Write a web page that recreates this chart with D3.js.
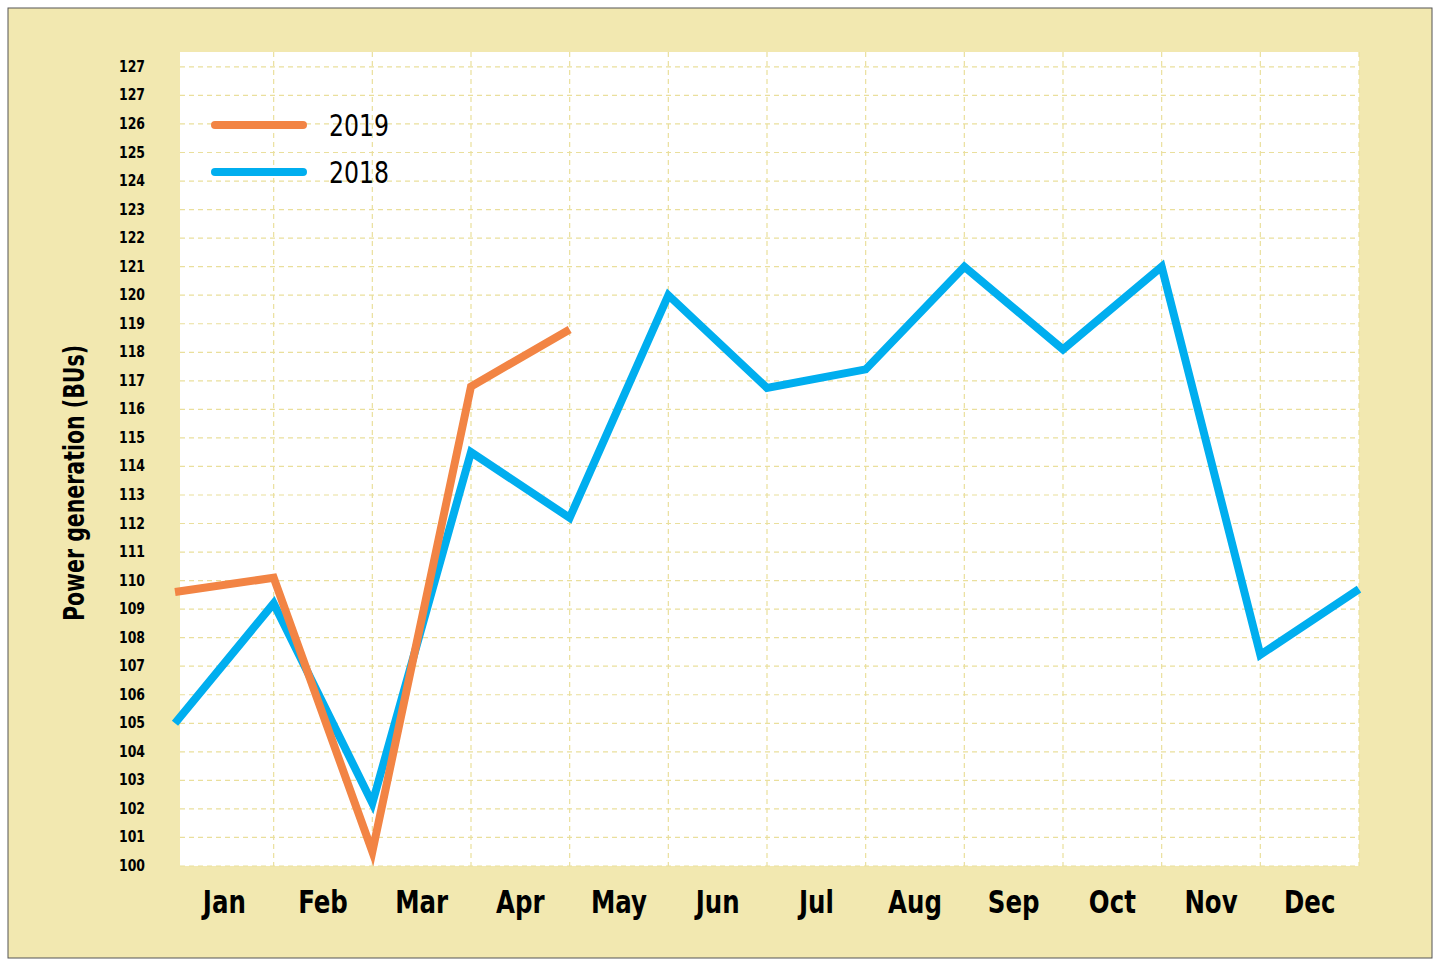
<!DOCTYPE html>
<html><head><meta charset="utf-8">
<script src="https://cdn.jsdelivr.net/npm/d3@7"></script>
<style>body{margin:0;background:#fff}</style>
</head><body>
<svg id="c" width="1439" height="965"></svg>
<script>
const months=["Jan","Feb","Mar","Apr","May","Jun","Jul","Aug","Sep","Oct","Nov","Dec"];
const values2018=[105,109.2,102.2,114.5,112.2,120,116.75,117.4,121,118.1,121,107.4,109.7];
const values2019=[109.6,110.1,100.5,116.8,118.8];
const tickValues=d3.range(100,129);
const tickLabels=["100","101","102","103","104","105","106","107","108","109","110","111","112","113","114","115","116","117","118","119","120","121","122","123","124","125","126","127","127"];
const font="'Liberation Sans Narrow','DejaVu Sans Condensed','Liberation Sans',Arial,sans-serif";
const svg=d3.select("#c");
svg.append("rect").attr("x",8).attr("y",8).attr("width",1424).attr("height",950).attr("fill","#f2e8b0").attr("stroke","#555").attr("stroke-width",1);
const L=180,R=1359,T=52,B=866;
svg.append("rect").attr("x",L).attr("y",T).attr("width",R-L).attr("height",B-T).attr("fill","#fff");
const x=d3.scaleLinear().domain([0,12]).range([175,1359]);
const y=d3.scaleLinear().domain([100,128]).range([B,B-28*28.54]);
const g=svg.append("g");
tickValues.forEach((v,i)=>{
 g.append("line").attr("x1",L).attr("x2",R).attr("y1",y(v)).attr("y2",y(v)).attr("stroke","#eadf9c").attr("stroke-width",1.2).attr("stroke-dasharray","5,4");
 g.append("text").attr("x",145).attr("y",y(v)+5).attr("text-anchor","end").attr("font-family",font).attr("font-weight","bold").attr("font-size",15).attr("textLength",26).attr("lengthAdjust","spacingAndGlyphs").text(tickLabels[i]);
});
d3.range(1,13).forEach(i=>{
 g.append("line").attr("x1",x(i)).attr("x2",x(i)).attr("y1",T).attr("y2",B).attr("stroke","#eadf9c").attr("stroke-width",1.2).attr("stroke-dasharray","5,4");
});
months.forEach((m,i)=>{
 const t=g.append("text").attr("x",x(i+0.5)).attr("y",913).attr("text-anchor","middle").attr("font-family",font).attr("font-weight","bold").attr("font-size",32).text(m);
 const w=t.node().getComputedTextLength();
 t.attr("textLength",w*0.85).attr("lengthAdjust","spacingAndGlyphs");
});
svg.append("text").attr("transform","translate(84,483) rotate(-90)").attr("text-anchor","middle").attr("font-family",font).attr("font-weight","bold").attr("font-size",28).attr("textLength",276).attr("lengthAdjust","spacingAndGlyphs").text("Power generation (BUs)");
const line=d3.line().x((d,i)=>x(i)).y(d=>y(d));
svg.append("path").datum(values2018).attr("d",line).attr("fill","none").attr("stroke","#00aeef").attr("stroke-width",8).attr("stroke-linejoin","miter");
svg.append("path").datum(values2019).attr("d",line).attr("fill","none").attr("stroke","#f28444").attr("stroke-width",8).attr("stroke-linejoin","miter");
[["2019","#f28444",125],["2018","#00aeef",172]].forEach(([t,c,yy])=>{
 svg.append("line").attr("x1",215).attr("x2",303).attr("y1",yy).attr("y2",yy).attr("stroke",c).attr("stroke-width",8).attr("stroke-linecap","round");
 svg.append("text").attr("x",329).attr("y",yy+11).attr("font-family",font).attr("font-size",30).attr("textLength",60).attr("lengthAdjust","spacingAndGlyphs").text(t);
});
</script>
</body></html>
